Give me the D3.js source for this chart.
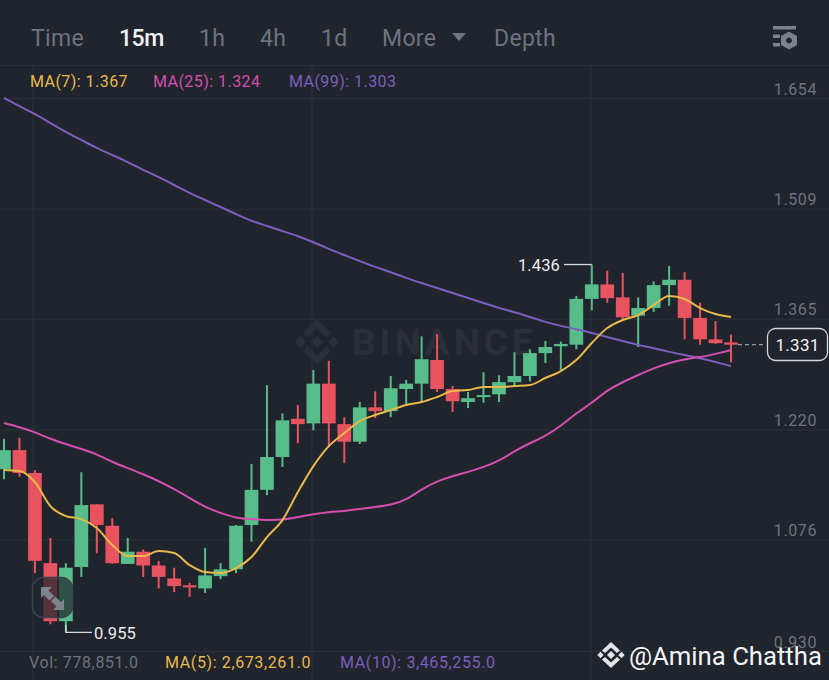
<!DOCTYPE html>
<html><head><meta charset="utf-8">
<script src="https://cdn.jsdelivr.net/npm/d3@7"></script>
<style>html,body{margin:0;padding:0;background:#1f242d;overflow:hidden}svg{display:block}text{font-family:Roboto,sans-serif}</style>
</head><body><svg id="c" width="829" height="680"></svg>
<script>
const yTicks=[1.654,1.509,1.365,1.220,1.076,0.930];
const yLabels=["1.654","1.509","1.365","1.220","1.076","0.930"];
const opens=[1.168,1.193,1.163,1.045,0.969,1.040,1.122,1.094,1.044,1.060,1.042,1.025,1.016,1.012,1.028,1.037,1.095,1.141,1.184,1.234,1.228,1.280,1.227,1.204,1.249,1.244,1.273,1.280,1.311,1.273,1.256,1.263,1.266,1.282,1.290,1.320,1.329,1.331,1.391,1.410,1.393,1.369,1.379,1.409,1.416,1.366,1.338,1.334];
const highs=[1.208,1.209,1.167,1.078,1.045,1.164,1.122,1.104,1.078,1.063,1.048,1.039,1.019,1.065,1.045,1.095,1.175,1.278,1.241,1.252,1.298,1.310,1.236,1.256,1.270,1.290,1.285,1.342,1.345,1.277,1.269,1.295,1.291,1.321,1.325,1.336,1.335,1.395,1.436,1.428,1.425,1.393,1.414,1.434,1.426,1.386,1.362,1.344];
const lows=[1.155,1.158,1.032,0.965,0.955,1.027,1.058,1.044,1.044,1.027,1.012,1.007,1.001,1.006,1.024,1.032,1.073,1.134,1.171,1.202,1.219,1.197,1.176,1.201,1.235,1.236,1.252,1.257,1.269,1.243,1.248,1.255,1.256,1.278,1.283,1.307,1.298,1.325,1.376,1.386,1.363,1.328,1.374,1.382,1.338,1.331,1.332,1.308];
const closes=[1.193,1.163,1.048,0.969,1.039,1.121,1.095,1.045,1.060,1.042,1.027,1.015,1.014,1.029,1.037,1.094,1.141,1.184,1.232,1.227,1.280,1.228,1.204,1.249,1.244,1.274,1.280,1.312,1.273,1.257,1.261,1.265,1.282,1.290,1.320,1.328,1.332,1.391,1.410,1.392,1.367,1.379,1.409,1.416,1.366,1.338,1.333,1.331];
const ma7=[1.1669,1.1656,1.1512,1.1197,1.1066,1.1027,1.0909,1.0687,1.0543,1.0543,1.0608,1.0582,1.0425,1.0333,1.0320,1.0386,1.0530,1.0791,1.1014,1.1381,1.1721,1.1983,1.2153,1.2310,1.2389,1.2454,1.2520,1.2559,1.2625,1.2703,1.2716,1.2756,1.2756,1.2769,1.2782,1.2874,1.2965,1.3109,1.3332,1.3528,1.3633,1.3698,1.3829,1.3947,1.3908,1.3790,1.3712,1.3672];
const ma25=[1.2284,1.2232,1.2166,1.2075,1.2009,1.1944,1.1878,1.1773,1.1695,1.1616,1.1525,1.1420,1.1302,1.1184,1.1106,1.1040,1.1027,1.1014,1.1014,1.1053,1.1093,1.1119,1.1132,1.1158,1.1184,1.1211,1.1276,1.1420,1.1525,1.1590,1.1643,1.1708,1.1787,1.1918,1.2022,1.2114,1.2245,1.2415,1.2546,1.2716,1.2821,1.2913,1.3005,1.3070,1.3122,1.3148,1.3188,1.3240];
const ma99=[1.6540,1.6435,1.6330,1.6212,1.6095,1.5990,1.5885,1.5793,1.5702,1.5597,1.5505,1.5401,1.5296,1.5204,1.5113,1.5021,1.4929,1.4864,1.4798,1.4733,1.4654,1.4563,1.4484,1.4405,1.4327,1.4261,1.4183,1.4117,1.4052,1.3986,1.3921,1.3855,1.3790,1.3738,1.3672,1.3607,1.3554,1.3515,1.3463,1.3410,1.3358,1.3306,1.3266,1.3214,1.3175,1.3135,1.3083,1.3031];
const tabs=["Time","15m","1h","4h","1d","More","Depth"];
const lastPrice=1.331;

const W=829,H=680;
const svg=d3.select("#c");
const C={bg:"#1f242d",grid:"#2c313b",axis:"#6e7582",up:"#58bd8a",down:"#e9535f",y:"#e9b949",p:"#d44fae",v:"#7d5fbf",wm:"#2a2f39"};
svg.append("rect").attr("width",W).attr("height",H).attr("fill",C.bg);

const x=d3.scaleLinear().domain([0,opens.length-1]).range([4,731]);
const y=d3.scaleLinear().domain([0.930,1.654]).range([651,98]);
const bodyW=13.7;

// grid
const grid=svg.append("g");
[33,312,591].forEach(px=>grid.append("line").attr("x1",px).attr("x2",px).attr("y1",65).attr("y2",H).attr("stroke",C.grid));
grid.append("line").attr("x1",0).attr("x2",W).attr("y1",65.5).attr("y2",65.5).attr("stroke",C.grid);
const yAxis=d3.axisRight(y).tickValues(yTicks).tickSize(W).tickFormat((d,i)=>yLabels[i]);
const ag=svg.append("g").call(yAxis);
ag.select(".domain").remove();
ag.selectAll(".tick line").attr("stroke",C.grid);
ag.selectAll(".tick text").attr("x",817).attr("dy",-4).attr("text-anchor","end")
  .attr("fill",C.axis).attr("font-size",16).attr("font-family","Roboto").attr("letter-spacing",".6px");

// watermark
const wm=svg.append("g").attr("fill",C.wm).attr("transform","translate(317,342)");
[[0,0,6],[-16.5,0,5.5],[16.5,0,5.5]].forEach(([a,b,r])=>wm.append("path").attr("d",`M${a-r},${b}L${a},${b-r}L${a+r},${b}L${a},${b+r}Z`));
wm.append("path").attr("d","M0,-23L14,-9L9.5,-4.5L0,-14L-9.5,-4.5L-14,-9Z");
wm.append("path").attr("d","M0,23L14,9L9.5,4.5L0,14L-9.5,4.5L-14,9Z");
svg.append("text").attr("x",352).attr("y",355).attr("font-size",37).attr("font-weight",700).attr("fill",C.wm).attr("letter-spacing","4px").text("BINANCE");

// candles
const idx=d3.range(opens.length);
const cg=svg.append("g");
cg.selectAll("line.w").data(idx).join("line").attr("class","w")
  .attr("x1",i=>x(i)).attr("x2",i=>x(i)).attr("y1",i=>y(highs[i])).attr("y2",i=>y(lows[i]))
  .attr("stroke",i=>closes[i]>=opens[i]?C.up:C.down).attr("stroke-width",2);
cg.selectAll("rect").data(idx).join("rect")
  .attr("x",i=>x(i)-bodyW/2).attr("width",bodyW)
  .attr("y",i=>y(Math.max(opens[i],closes[i])))
  .attr("height",i=>Math.max(2,Math.abs(y(opens[i])-y(closes[i]))))
  .attr("fill",i=>closes[i]>=opens[i]?C.up:C.down);

// moving averages
const smooth=d3.line().x((d,i)=>x(i)).y(d=>y(d)).curve(d3.curveBasis);
const tight=d3.line().x((d,i)=>x(i)).y(d=>y(d)).curve(d3.curveMonotoneX);
[[ma99,C.v,smooth],[ma25,C.p,smooth],[ma7,C.y,tight]].forEach(([s,c,l])=>svg.append("path").attr("d",l(s)).attr("fill","none").attr("stroke",c).attr("stroke-width",2));

// top tabs
const tabX=[31,119,199,260,321,382,494];
tabs.forEach((t,i)=>svg.append("text").attr("x",tabX[i]).attr("y",46).attr("font-size",23)
  .attr("fill",t==="15m"?"#f2f3f5":C.axis).attr("font-weight",t==="15m"?500:400).attr("letter-spacing",t==="15m"?"-.5px":".3px").text(t));
svg.append("path").attr("d","M452,33H466L459,41Z").attr("fill",C.axis);
// settings icon
const ic=svg.append("g").attr("fill","#7b818d");
ic.append("rect").attr("x",773).attr("y",26).attr("width",23).attr("height",3.5);
ic.append("rect").attr("x",773).attr("y",34.5).attr("width",7).attr("height",3.5);
ic.append("rect").attr("x",773).attr("y",43).attr("width",7).attr("height",3.5);
ic.append("path").attr("fill-rule","evenodd").attr("d","M789,31.5L797,36V45L789,49.5L781,45V36ZM789,37.5a3,3 0 1,0 0.01,0Z");

// MA legends
[["MA(7): 1.367",30,C.y],["MA(25): 1.324",153,C.p],["MA(99): 1.303",289,C.v]].forEach(([t,px,c])=>
  svg.append("text").attr("x",px).attr("y",87).attr("font-size",16).attr("fill",c).attr("letter-spacing",".45px").text(t));
[["Vol: 778,851.0",29,C.axis],["MA(5): 2,673,261.0",165,C.y],["MA(10): 3,465,255.0",340,C.v]].forEach(([t,px,c])=>
  svg.append("text").attr("x",px).attr("y",668).attr("font-size",16).attr("fill",c).attr("letter-spacing",".62px").text(t));

// high / low annotations
const hi=d3.max(highs), lo=d3.min(lows), iHi=highs.indexOf(hi), iLo=lows.indexOf(lo);
svg.append("path").attr("d",`M564,${y(hi)}H${x(iHi)}`).attr("stroke","#d8dade").attr("fill","none").attr("stroke-width",1.3);
svg.append("text").attr("x",518).attr("y",y(hi)+6.5).attr("font-size",16.5).attr("fill","#eceef0").attr("letter-spacing",".1px").text(hi.toFixed(3));
svg.append("path").attr("d",`M${x(iLo)},${y(lo)-7}V${y(lo)+.5}H92`).attr("stroke","#d8dade").attr("fill","none").attr("stroke-width",1.3);
svg.append("text").attr("x",94).attr("y",y(lo)+7).attr("font-size",16.5).attr("fill","#eceef0").attr("letter-spacing",".1px").text(lo.toFixed(3));

// last price
svg.append("line").attr("x1",738).attr("x2",766).attr("y1",y(lastPrice)).attr("y2",y(lastPrice)).attr("stroke","#b9bcc2").attr("stroke-dasharray","4 3");
svg.append("rect").attr("x",767.5).attr("y",328.5).attr("width",60).attr("height",32).attr("rx",8).attr("fill",C.bg).attr("stroke","#d5d7da").attr("stroke-width",1.3);
svg.append("text").attr("x",797.5).attr("y",y(lastPrice)+6).attr("text-anchor","middle").attr("font-size",17).attr("fill","#f4f5f6").attr("letter-spacing",".3px").text(lastPrice.toFixed(3));

// expand button
svg.append("rect").attr("x",32.5).attr("y",577.5).attr("width",40).attr("height",40).attr("rx",11).attr("fill","#20262e").attr("fill-opacity",.72).attr("stroke","#3c424c").attr("stroke-width",1.5);
const ar=svg.append("g").attr("fill","#7d838e");
ar.append("path").attr("d","M41,587H52L48.5,590.5L54,596L49.5,600.5L44,595L41,598Z");
ar.append("path").attr("d","M64,610H53L56.5,606.5L51,601L55.5,596.5L61,602L64,599Z");

// credit
const lg=svg.append("g").attr("fill","#e3e4e6").attr("transform","translate(611,655)");
[[0,0,4],[-10.5,0,3.2],[10.5,0,3.2]].forEach(([a,b,r])=>lg.append("path").attr("d",`M${a-r},${b}L${a},${b-r}L${a+r},${b}L${a},${b+r}Z`));
lg.append("path").attr("d","M0,-13L9,-4.5L6,-2L0,-7.5L-6,-2L-9,-4.5Z");
lg.append("path").attr("d","M0,13L9,4.5L6,2L0,7.5L-6,2L-9,4.5Z");
svg.append("text").attr("x",629).attr("y",665).attr("font-size",25.7).attr("font-family","Noto Sans").attr("fill","#f4f4f5").text("@Amina Chattha");
</script></body></html>
